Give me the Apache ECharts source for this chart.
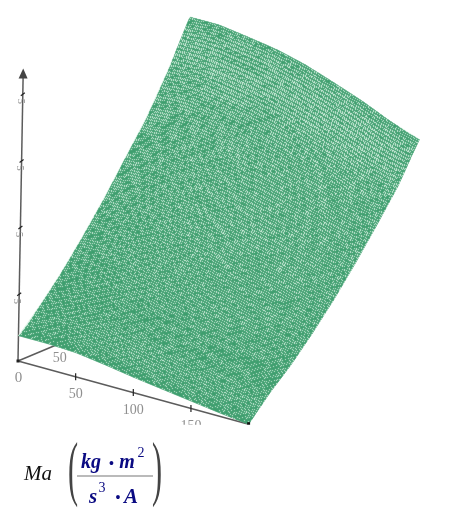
<!DOCTYPE html>
<html><head><meta charset="utf-8">
<style>html,body{margin:0;padding:0;background:#fff}#c{width:474px;height:531px}</style>
<script src="https://cdn.jsdelivr.net/npm/echarts@6/dist/echarts.min.js"></script>
</head><body><div id="c"></div>
<script>
// ---- data ----
const xSamples = [0,25,50,75,100,125,150,175,200];
const ySamples = [0,25,50,75,100,125,150,175,200];
const surfaceZ = [
 [ 38, 38, 36, 30, 23, 17, 11,  5,  0],
 [ 70, 71, 70, 65, 59, 51, 45, 38, 34],
 [106,107,105, 99, 92, 84, 76, 68, 63],
 [147,148,145,139,132,123,113,104, 97],
 [191,191,188,182,174,163,153,141,134],
 [239,239,235,229,220,209,197,183,175],
 [287,288,283,277,268,255,242,227,219],
 [345,345,339,331,320,306,290,273,265],
 [411,411,405,398,387,372,356,337,322]
];
const xTicks = [50,100,150];
const yTicks = [50,100,150];
const zTicks = [100,200,300,400];
const zTickLabels = ['5','5','5','5'];
const originLabel = '0';
const axisEnds = {x:200, y:200, z:425};
const unitName = 'Ma';

// ---- view (projection of the 3-D box on the page) ----
const W=474,H=531;
const O=[18,361], EX=[1.153,0.316], EY=[0.835,-0.35], EZ=[0.012,-0.667];
const proj=(x,y,z)=>[O[0]+EX[0]*x+EY[0]*y+EZ[0]*z, O[1]+EX[1]*x+EY[1]*y+EZ[1]*z];

const AX='#5c5c5c', TXT='#8f8f8f', SERIF='"Liberation Serif","DejaVu Serif",serif';
const cells=[];
for(let j=0;j<ySamples.length-1;j++)for(let i=0;i<xSamples.length-1;i++)cells.push([i,j]);

// ---- wire-mesh look of the surface: a fill pattern ----
const MESH=128, BASE=[232,250,238], WIRE=[62,158,110];
function sampleZ(x,y){
  const cr=(p0,p1,p2,p3,t)=>p1+0.5*t*(p2-p0+t*(2*p0-5*p1+4*p2-p3+t*(3*(p1-p2)+p3-p0)));
  const n=xSamples.length-1, st=xSamples[1]-xSamples[0];
  const fx=Math.min(x/st,n-1e-6), fy=Math.min(y/st,n-1e-6);
  const i=Math.floor(fx), j=Math.floor(fy);
  const cl=(a)=>Math.max(0,Math.min(n,a));
  const row=(b)=>cr(surfaceZ[b][cl(i-1)],surfaceZ[b][i],surfaceZ[b][i+1],surfaceZ[b][cl(i+2)],fx-i);
  return cr(row(cl(j-1)),row(j),row(j+1),row(cl(j+2)),fy-j);
}
function makeMeshPattern(){
  const a=document.createElement('canvas');a.width=W;a.height=H;
  const g=a.getContext('2d');const im=g.createImageData(W,H);const D=im.data;
  for(let k=0;k<D.length;k+=4){D[k]=BASE[0];D[k+1]=BASE[1];D[k+2]=BASE[2];D[k+3]=255;}
  const plot=(x,y)=>{const p=proj(x,y,sampleZ(x,y));const px=Math.round(p[0]),py=Math.round(p[1]);
    if(px<0||py<0||px>=W||py>=H)return;const q=(py*W+px)*4;D[q]=WIRE[0];D[q+1]=WIRE[1];D[q+2]=WIRE[2];};
  const X=xSamples[xSamples.length-1],Y=ySamples[ySamples.length-1],S=700;
  for(let k=0;k<=MESH;k++){
    for(let s=0;s<=S;s++){plot(X*k/MESH,Y*s/S);plot(X*s/S,Y*k/MESH);}
  }
  // soften: the reference is a slightly blurred raster
  const src=new Uint8ClampedArray(D);
  const kern=[[0,0,0.56],[1,0,0.08],[-1,0,0.08],[0,1,0.08],[0,-1,0.08],[1,1,0.03],[-1,1,0.03],[1,-1,0.03],[-1,-1,0.03]];
  for(let y=1;y<H-1;y++)for(let x=1;x<W-1;x++){
    const q=(y*W+x)*4;
    for(let c=0;c<3;c++){let v=0;kern.forEach(e=>{v+=e[2]*src[((y+e[1])*W+x+e[0])*4+c];});D[q+c]=v;}
  }
  g.putImageData(im,0,0);
  return a;
}
const meshFill={image:makeMeshPattern(),repeat:'no-repeat'};

function renderCell(params,api){
  const i=api.value(0), j=api.value(1);
  const corner=(a,b)=>api.coord(proj(xSamples[a],ySamples[b],surfaceZ[b][a]));
  return {type:'polygon',shape:{points:[corner(i,j),corner(i+1,j),corner(i+1,j+1),corner(i,j+1)]},
    style:{fill:meshFill,stroke:meshFill,lineWidth:0.8}};
}
function renderAxes(params,api){
  const c=(x,y,z)=>api.coord(proj(x,y,z));
  const line=(a,b,w,col)=>({type:'line',shape:{x1:a[0],y1:a[1],x2:b[0],y2:b[1]},style:{stroke:col||AX,lineWidth:w||1.5}});
  const text=(s,p,font,rot)=>({type:'text',x:p[0],y:p[1],rotation:rot||0,style:{text:s,x:0,y:0,align:'center',verticalAlign:'middle',fill:TXT,font:font||('14px '+SERIF)}});
  const kids=[];
  kids.push(line(c(0,0,0),c(axisEnds.x,0,0)));
  kids.push(line(c(0,0,0),c(0,axisEnds.y,0)));
  kids.push(line(c(0,0,0),c(0,0,axisEnds.z)));
  const top=c(0,0,axisEnds.z); const tip=[top[0]+0.1,top[1]-9];
  kids.push({type:'polygon',shape:{points:[tip,[top[0]-4.5,top[1]+1],[top[0]+4.5,top[1]+1]]},style:{fill:'#444'}});
  xTicks.forEach(v=>{const p=c(v,0,0);kids.push(line([p[0],p[1]-3.5],[p[0],p[1]+3.5],1.2,'#222'));
    kids.push(text(String(v),[p[0],p[1]+18]));});
  yTicks.forEach(v=>{const p=c(0,v,0);kids.push(line([p[0],p[1]-3],[p[0],p[1]+3],1.2,'#222'));
    kids.push(text(String(v),[p[0],p[1]+14.5]));});
  zTicks.forEach((v,k)=>{const p=c(0,0,v);kids.push(line([p[0]-2,p[1]+1.5],[p[0]+2,p[1]-1.5],1.2,'#222'));
    kids.push(text(zTickLabels[k],[p[0]-2,p[1]+7],'11px '+SERIF,-Math.PI/2));});
  const o=c(0,0,0);
  kids.push(text(originLabel,[o[0]+0.5,o[1]+17],'15px '+SERIF));
  return {type:'group',children:kids};
}
function renderMarks(params,api){
  const c=(x,y,z)=>api.coord(proj(x,y,z));
  const o=c(0,0,0), e=c(axisEnds.x,0,0);
  return {type:'group',children:[
    {type:'rect',shape:{x:e[0]-1.5,y:e[1]-2,width:3,height:3},style:{fill:'#111'}},
    {type:'rect',shape:{x:o[0]-1.5,y:o[1]-1.5,width:3,height:3},style:{fill:'#222'}},
    {type:'rect',shape:{x:150,y:e[1]+0.5,width:120,height:12},style:{fill:'#fff'}}
  ]};
}
const NAVY='#0a0a82';
const F=(w,sz)=>w+' '+sz+'px '+SERIF;
const t=(s,x,y,font,fill,extra)=>Object.assign({type:'text',x:x,y:y,silent:true,style:{text:s,font:font,fill:fill,textAlign:'center',textVerticalAlign:'middle'}},extra||{});
const formula=[
  t(unitName,38,474,F('italic',21),'#111'),
  t('(',73,473,'72px '+SERIF,'#444',{scaleX:0.42}),
  t(')',157,473,'72px '+SERIF,'#444',{scaleX:0.42}),
  t('kg',91,463,F('italic bold',20),NAVY),
  t('•',111.5,464,F('bold',14),NAVY),
  t('m',127,463,F('italic bold',20),NAVY),
  t('2',141,453,F('',14),NAVY),
  t('s',93,498,F('italic bold',21),NAVY),
  t('3',102,488,F('',14),NAVY),
  t('•',118,498,F('bold',14),NAVY),
  t('A',131,498,F('italic bold',21),NAVY),
  {type:'rect',silent:true,shape:{x:77,y:475.5,width:76,height:1},style:{fill:'#777'}}
];
const chart=echarts.init(document.getElementById('c'),null,{renderer:'canvas'});
chart.setOption({
  animation:false,
  grid:{left:0,right:0,top:0,bottom:0},
  xAxis:{type:'value',min:0,max:474,show:false},
  yAxis:{type:'value',min:0,max:531,inverse:true,show:false},
  graphic:formula,
  series:[
    {type:'custom',z:1,silent:true,clip:false,coordinateSystem:'cartesian2d',data:[[0,0]],renderItem:renderAxes},
    {type:'custom',z:2,silent:true,clip:false,coordinateSystem:'cartesian2d',data:cells,progressive:0,renderItem:renderCell},
    {type:'custom',z:3,silent:true,clip:false,coordinateSystem:'cartesian2d',data:[[0,0]],renderItem:renderMarks}
  ]
});
</script></body></html>
